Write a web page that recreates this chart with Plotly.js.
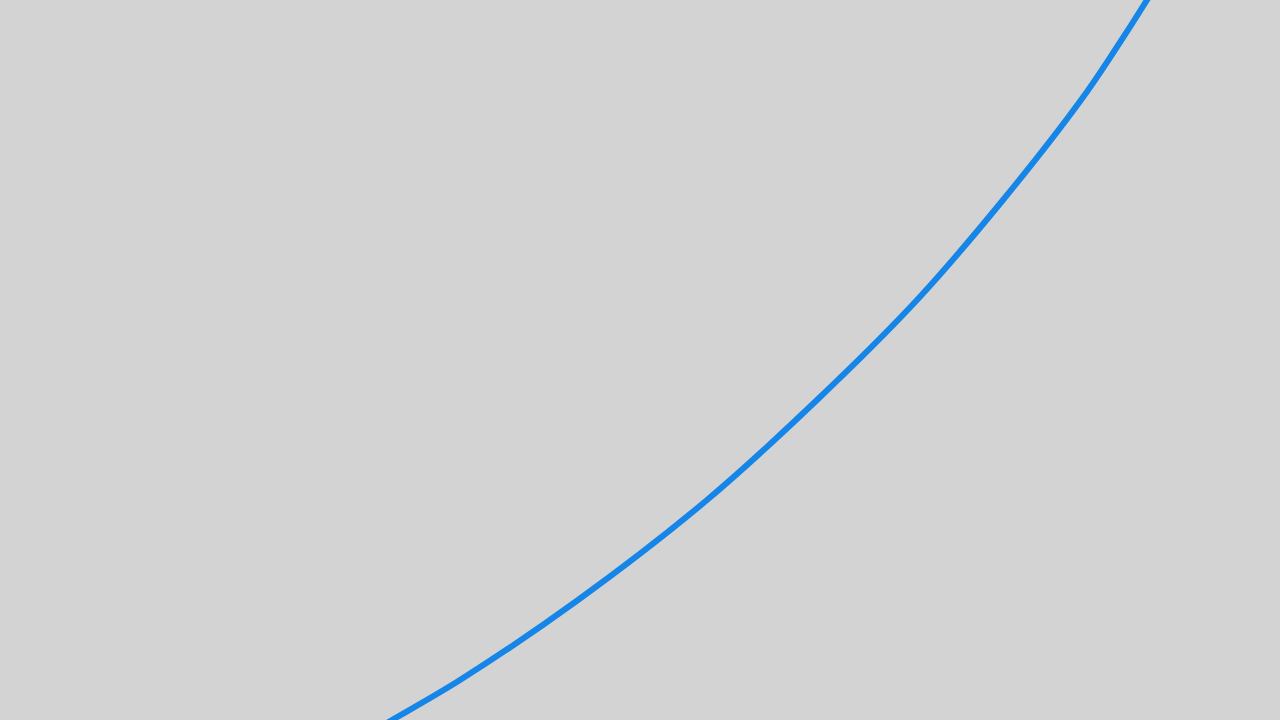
<!DOCTYPE html>
<html>
<head>
<meta charset="utf-8">
<script src="https://cdn.plot.ly/plotly-3.0.1.min.js"></script>
<style>
  html, body { margin: 0; padding: 0; background: #d3d3d3; }
  #chart { width: 1280px; height: 720px; }
</style>
</head>
<body>
<div id="chart"></div>
<script>
// curve (x to the right, y upward)
var curveX = [375, 392, 460, 578, 707, 817, 917, 1003, 1081, 1115, 1147, 1153];
var curveY = [-10, 0, 40, 120, 220, 320, 420, 520, 620, 670, 720, 730];

var data = [
  {
    type: 'scatter',
    mode: 'lines',
    x: curveX,
    y: curveY,
    line: { color: '#1586e8', width: 6, shape: 'spline', smoothing: 1 },
    hoverinfo: 'skip',
    showlegend: false
  }
];

var layout = {
  width: 1280,
  height: 720,
  margin: { l: 0, r: 0, t: 0, b: 0 },
  paper_bgcolor: '#d3d3d3',
  plot_bgcolor: '#d3d3d3',
  xaxis: { range: [0, 1280], visible: false, fixedrange: true },
  yaxis: { range: [0, 720], visible: false, fixedrange: true },
  showlegend: false
};

Plotly.newPlot('chart', data, layout, { displayModeBar: false, staticPlot: true });
</script>
</body>
</html>
